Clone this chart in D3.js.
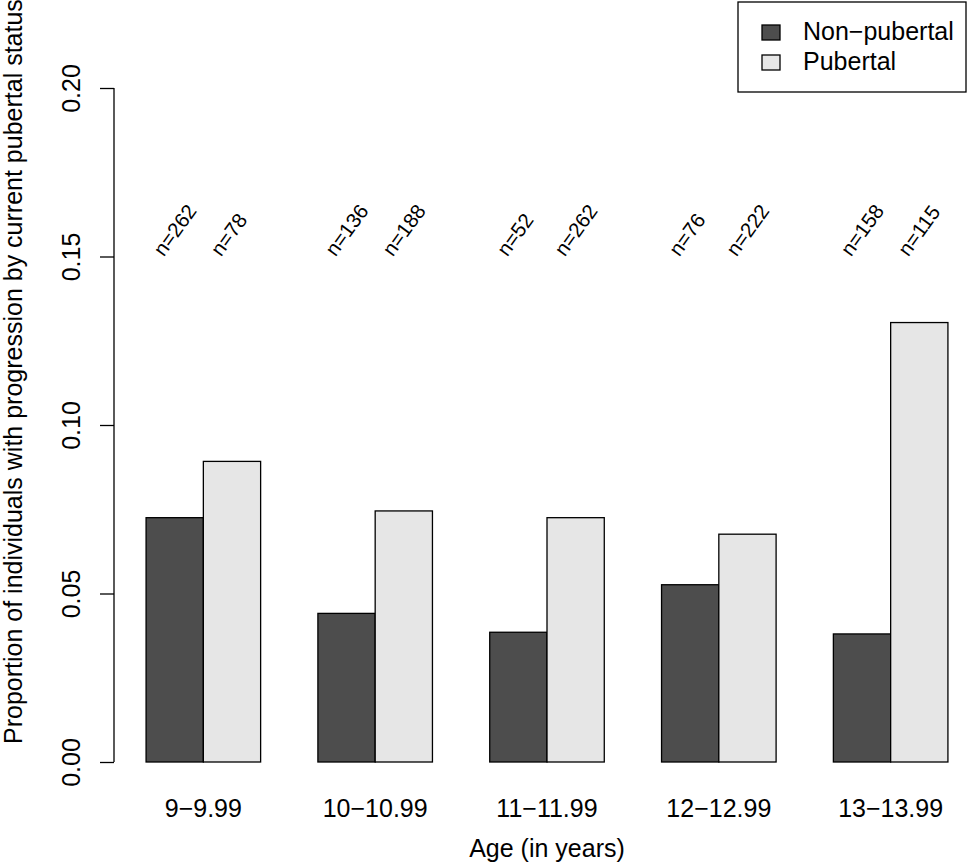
<!DOCTYPE html>
<html>
<head>
<meta charset="utf-8">
<script src="https://cdn.jsdelivr.net/npm/d3@7"></script>
<style>
  html, body { margin: 0; padding: 0; background: #fff; }
  svg { display: block; font-family: "Liberation Sans", Arial, Helvetica, sans-serif; }
</style>
</head>
<body>
<div id="chart"></div>
<script>
const ageGroups = ['9\u22129.99', '10\u221210.99', '11\u221211.99', '12\u221212.99', '13\u221213.99'];
const seriesNames = ['Non\u2212pubertal', 'Pubertal'];
const nonPubertal = [0.0725, 0.0441, 0.0385, 0.0526, 0.0380];
const pubertal = [0.0892, 0.0745, 0.0725, 0.0676, 0.1304];
const nNonPubertal = [262, 136, 52, 76, 158];
const nPubertal = [78, 188, 262, 222, 115];
const yTicks = [0, 0.05, 0.10, 0.15, 0.20];

const width = 967, height = 864;
const colors = ['#4d4d4d', '#e6e6e6'];

const svg = d3.select('#chart')
    .append('svg')
    .attr('width', width)
    .attr('height', height);

svg.append('rect')
    .attr('width', width)
    .attr('height', height)
    .attr('fill', '#fff');

// R barplot units: groups of 2 bars with a 1-bar gap, plot spans 0.44..15.56
const xUnits = d3.scaleLinear().domain([0.44, 15.56]).range([114, 980]);
const x0 = d3.scaleBand()
    .domain(ageGroups)
    .range([xUnits(0), xUnits(15)])
    .paddingInner(1 / 3)
    .paddingOuter(1 / 6)
    .align(1);
const x1 = d3.scaleBand()
    .domain(seriesNames)
    .range([0, x0.bandwidth()]);
const y = d3.scaleLinear()
    .domain([0, 0.2])
    .range([762, 88]);

const data = ageGroups.map((g, i) => ({
    group: g,
    values: [
        {name: seriesNames[0], value: nonPubertal[i], n: nNonPubertal[i]},
        {name: seriesNames[1], value: pubertal[i], n: nPubertal[i]}
    ]
}));

// Bars
const groups = svg.selectAll('g.group')
    .data(data)
    .enter()
    .append('g')
    .attr('class', 'group')
    .attr('transform', d => `translate(${x0(d.group)},0)`);
groups.selectAll('rect')
    .data(d => d.values)
    .enter()
    .append('rect')
    .attr('x', d => x1(d.name))
    .attr('y', d => y(d.value))
    .attr('width', x1.bandwidth())
    .attr('height', d => y(0) - y(d.value))
    .attr('fill', (d, i) => colors[i])
    .attr('stroke', '#000')
    .attr('stroke-width', 1.3);

// Sample size labels
groups.selectAll('text.n')
    .data(d => d.values)
    .enter()
    .append('text')
    .attr('class', 'n')
    .attr('transform', d => `translate(${x1(d.name) + x1.bandwidth() / 2 - 11},${y(0.15) + 1}) rotate(-54)`)
    .attr('font-size', '20.5px')
    .attr('fill', '#000')
    .text(d => `n=${d.n}`);

// Y axis (R style)
const yAxis = d3.axisLeft(y)
    .tickValues(yTicks)
    .tickSize(14)
    .tickFormat(d3.format('.2f'));
const yg = svg.append('g')
    .attr('transform', `translate(${xUnits(0.44)},0)`)
    .call(yAxis);
yg.select('.domain')
    .attr('d', `M0,${y(0)}V${y(0.2)}`)
    .attr('stroke-width', 1.3);
yg.selectAll('.tick line').attr('stroke-width', 1.3);
yg.selectAll('.tick text')
    .attr('font-size', '25px')
    .attr('font-family', null)
    .attr('fill', '#000')
    .attr('x', null)
    .attr('dy', null)
    .attr('text-anchor', 'middle')
    .attr('transform', 'translate(-34,0) rotate(-90)');

// Group labels
svg.selectAll('text.xlab')
    .data(ageGroups)
    .enter()
    .append('text')
    .attr('class', 'xlab')
    .attr('x', d => x0(d) + x0.bandwidth() / 2)
    .attr('y', 817)
    .attr('text-anchor', 'middle')
    .attr('font-size', '25px')
    .text(d => d);

// Axis titles
svg.append('text')
    .attr('x', (xUnits(0.44) + xUnits(15.56)) / 2)
    .attr('y', 857)
    .attr('text-anchor', 'middle')
    .attr('font-size', '25px')
    .text('Age (in years)');
svg.append('text')
    .attr('transform', 'translate(22,744) rotate(-90)')
    .attr('text-anchor', 'start')
    .attr('font-size', '25px')
    .text('Proportion of individuals with progression by current pubertal status');

// Legend
const legend = svg.append('g');
legend.append('rect')
    .attr('x', 738)
    .attr('y', 2)
    .attr('width', 228)
    .attr('height', 90)
    .attr('fill', '#fff')
    .attr('stroke', '#000')
    .attr('stroke-width', 1.3);
const items = legend.selectAll('g.item')
    .data(seriesNames)
    .enter()
    .append('g')
    .attr('transform', (d, i) => `translate(0,${32 + i * 30})`);
items.append('rect')
    .attr('x', 762)
    .attr('y', -7)
    .attr('width', 18)
    .attr('height', 15)
    .attr('fill', (d, i) => colors[i])
    .attr('stroke', '#000')
    .attr('stroke-width', 1.3);
items.append('text')
    .attr('x', 803)
    .attr('y', 8)
    .attr('font-size', '25px')
    .text(d => d);
</script>
</body>
</html>
